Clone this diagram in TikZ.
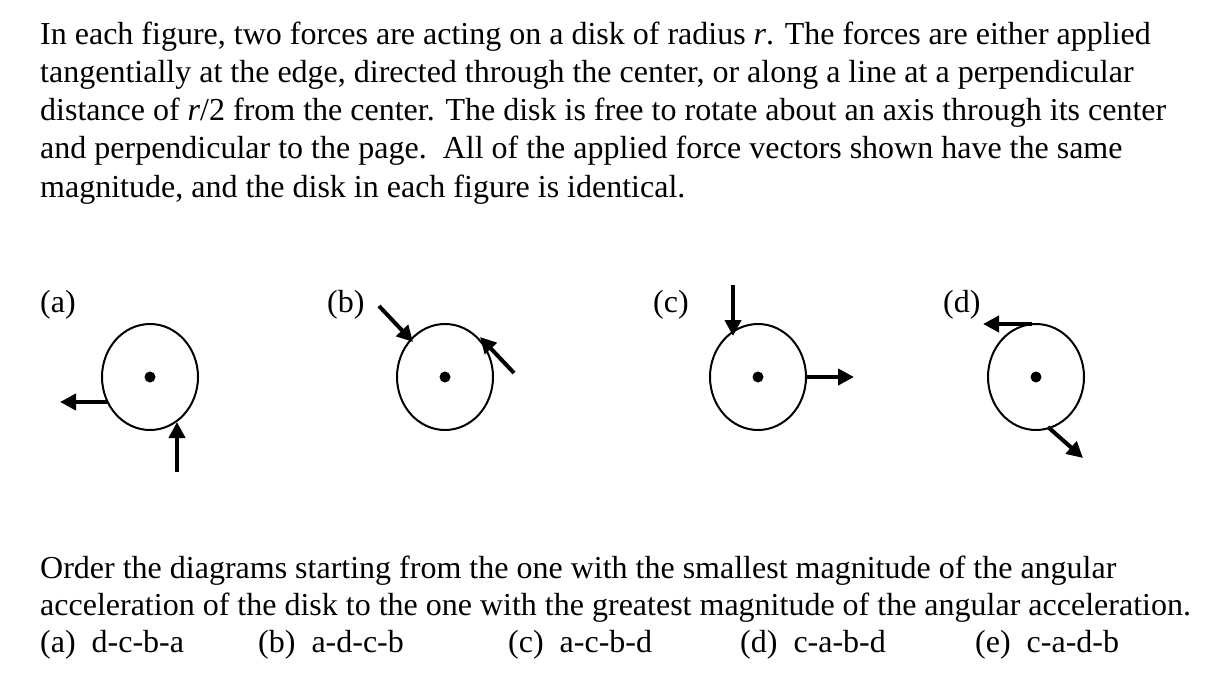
\documentclass[tikz,border=0pt]{standalone}
\usepackage{fontspec}
\setmainfont{Liberation Serif}
\usetikzlibrary{arrows.meta}
\begin{document}
\begin{tikzpicture}[x=1pt,y=-1pt,
  txt/.style={anchor=base west,inner sep=0pt,font=\fontsize{32}{36}\selectfont},
  disk/.style={draw,line width=2pt},
  force/.style={line width=4pt,-{Triangle[length=16pt,width=16pt]}},
  ctr/.style={circle,fill,inner sep=0pt,minimum size=11pt}]
\useasboundingbox (0,0) rectangle (1232,698);
\node[txt] (l1) at (40,45) {In each figure, two forces are acting on a disk of radius \textit{r}. The forces are either applied};
\node[txt] (l2) at (40,83) {tangentially at the edge, directed through the center, or along a line at a perpendicular};
\node[txt] (l3) at (40,121) {distance of \textit{r}/2 from the center. The disk is free to rotate about an axis through its center};
\node[txt] (l4) at (40,159) {and perpendicular to the page.\ \ All of the applied force vectors shown have the same};
\node[txt] (l5) at (40,197) {magnitude, and the disk in each figure is identical.};
\node[txt] (la) at (40,312) {(a)};
\node[txt] (lb) at (327,312) {(b)};
\node[txt] (lc) at (653,312) {(c)};
\node[txt] (ld) at (943,312) {(d)};
% disks
\foreach \n/\x in {A/150,B/445,C/758,D/1036}{
  \draw[disk] (\x,377) ellipse [x radius=48,y radius=53];
  \node[ctr] (\n) at (\x,377) {};
}
\coordinate (a1s) at (107,402); \coordinate (a1e) at (60,402);
\coordinate (a2s) at (177,472); \coordinate (a2e) at (177,422);
\coordinate (b1s) at (379,306); \coordinate (b1e) at (413,342);
\coordinate (b2s) at (514,373); \coordinate (b2e) at (480,337);
\coordinate (c1s) at (733,285); \coordinate (c1e) at (733,336);
\coordinate (c2s) at (807,377); \coordinate (c2e) at (854,377);
\coordinate (d1s) at (1032,324); \coordinate (d1e) at (983,324);
\coordinate (d2s) at (1048,427); \coordinate (d2e) at (1083,458);
\foreach \p in {a1,a2,b1,b2,c1,c2,d1,d2}{\draw[force] (\p s) -- (\p e);}
\node[txt] (q1) at (40,578) {Order the diagrams starting from the one with the smallest magnitude of the angular};
\node[txt] (q2) at (40,615) {acceleration of the disk to the one with the greatest magnitude of the angular acceleration.};
\node[txt] (oa) at (40,652) {(a)\ \ d-c-b-a};
\node[txt] (ob) at (258,652) {(b)\ \ a-d-c-b};
\node[txt] (oc) at (508,652) {(c)\ \ a-c-b-d};
\node[txt] (od) at (740,652) {(d)\ \ c-a-b-d};
\node[txt] (oe) at (975,652) {(e)\ \ c-a-d-b};
\end{tikzpicture}
\end{document}
